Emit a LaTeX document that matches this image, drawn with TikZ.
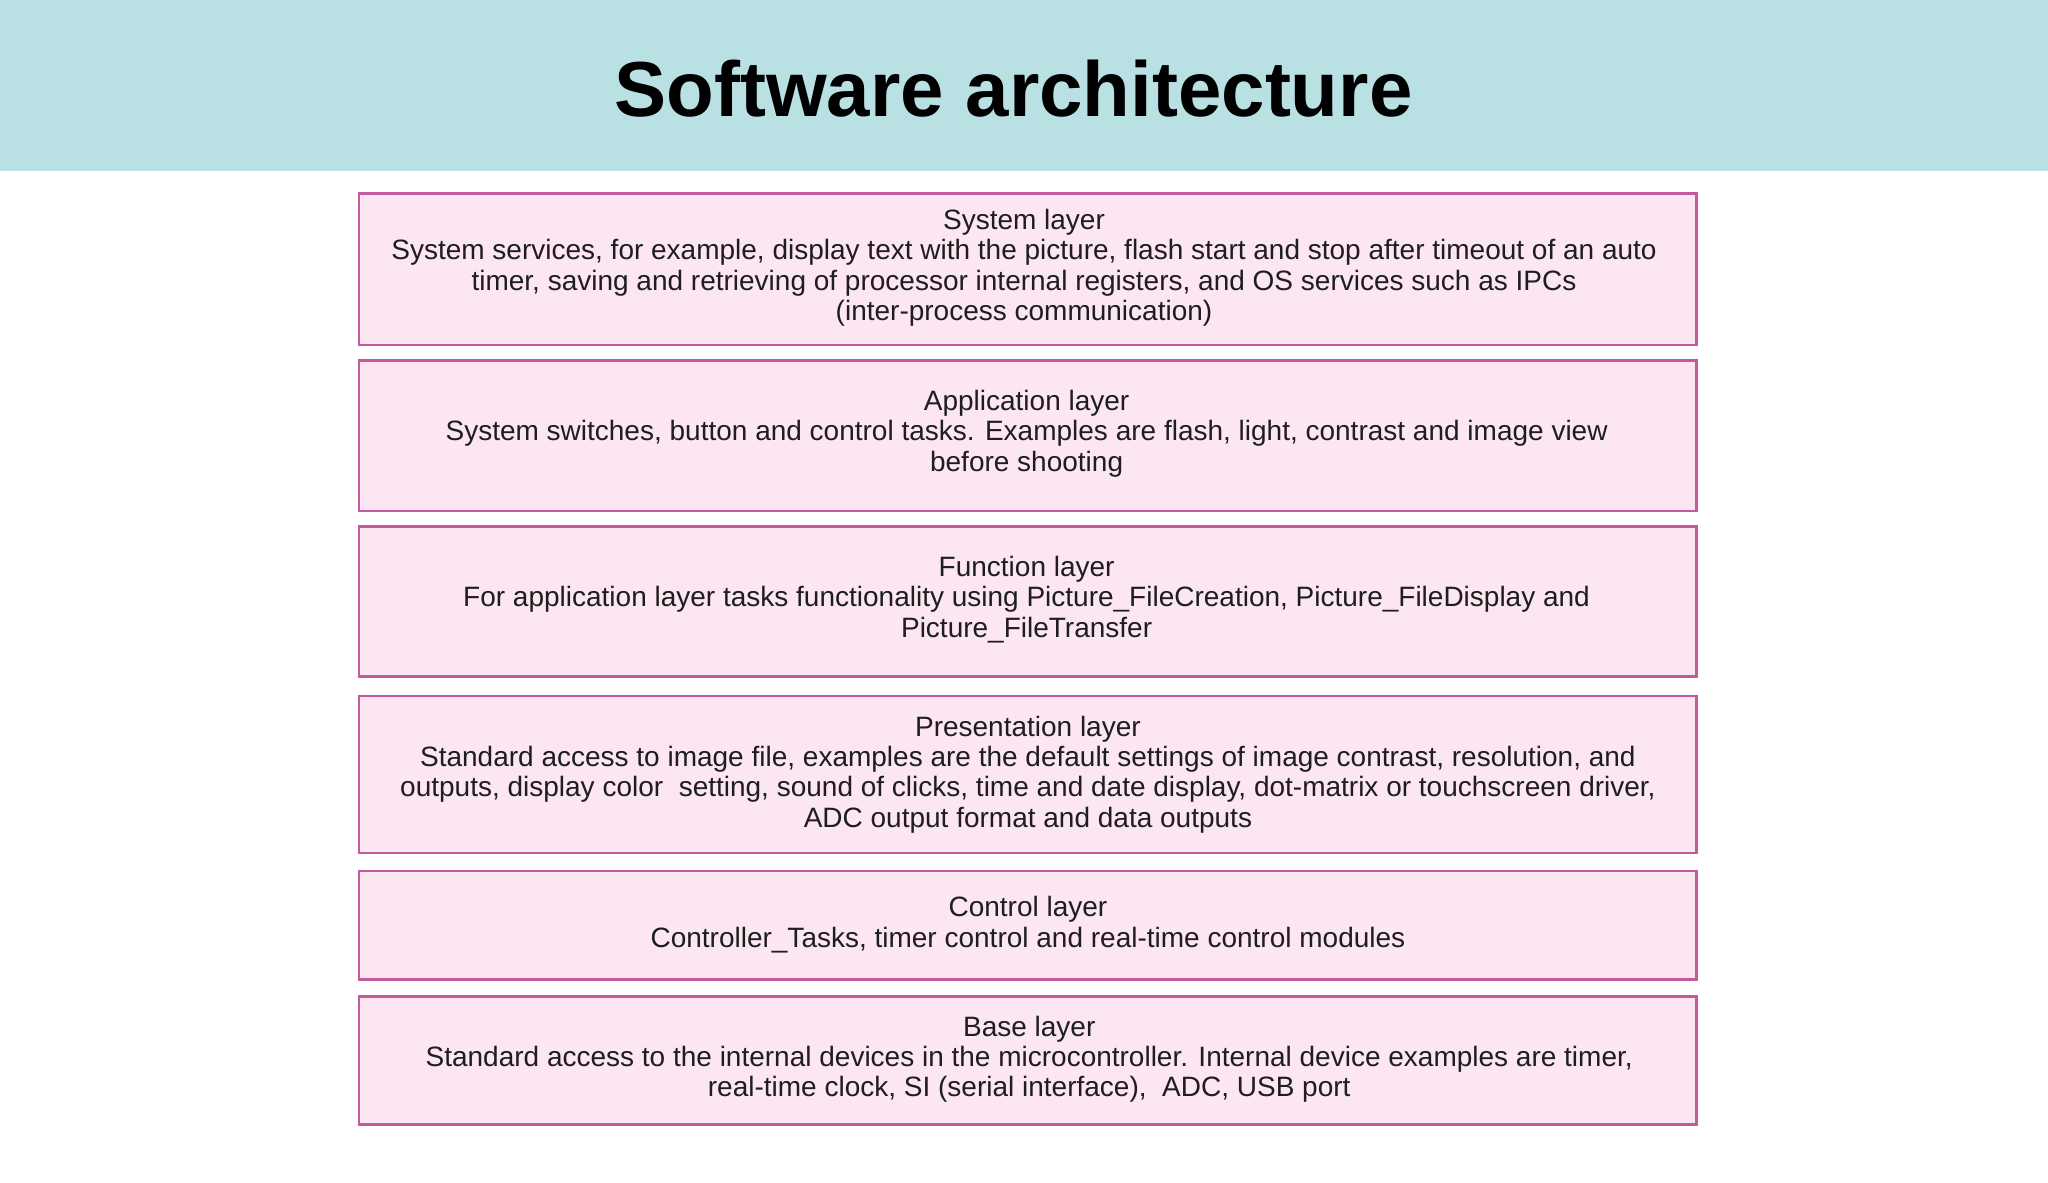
\documentclass[tikz,border=0pt]{standalone}
\usepackage{fontspec}
\setmainfont{Liberation Sans}
\definecolor{hdr}{HTML}{B9E0E3}
\definecolor{boxfill}{HTML}{FCE6F1}
\definecolor{boxline}{HTML}{C45A9E}
\definecolor{txt}{HTML}{1E1E1E}
\begin{document}
\begin{tikzpicture}[x=0.05cm,y=-0.05cm,
  layer/.style={draw=boxline,line width=2.6pt,fill=boxfill},
  ltext/.style={align=center,text=txt,font=\fontsize{30.5}{33}\selectfont,inner sep=0pt}]
\useasboundingbox (0,0) rectangle (1568,905);
\fill[white] (0,0) rectangle (1568,905);
\fill[hdr] (0,0) rectangle (1568,131);
\node[font=\bfseries\fontsize{85}{90}\selectfont] (title) at (776,68) {Software architecture};
\draw[layer] (275,148) rectangle (1299,264);
\node[ltext] (sys) at (784,205) {System layer\\System services, for example, display text with the picture, flash start and stop after timeout of an auto\\timer, saving and retrieving of processor internal registers, and OS services such as IPCs\\(inter-process communication)};
\draw[layer] (275,276) rectangle (1299,391);
\node[ltext] (app) at (786,332) {Application layer\\System switches, button and control tasks. Examples are flash, light, contrast and image view\\before shooting};
\draw[layer] (275,403) rectangle (1299,518);
\node[ltext] (fun) at (786,459) {Function layer\\For application layer tasks functionality using Picture\_FileCreation, Picture\_FileDisplay and\\Picture\_FileTransfer};
\draw[layer] (275,533) rectangle (1299,653);
\node[ltext] (pre) at (787,593) {Presentation layer\\Standard access to image file, examples are the default settings of image contrast, resolution, and\\outputs, display color\ \ setting, sound of clicks, time and date display, dot-matrix or touchscreen driver,\\ADC output format and data outputs};
\draw[layer] (275,667) rectangle (1299,750);
\node[ltext] (con) at (787,708) {Control layer\\Controller\_Tasks, timer control and real-time control modules};
\draw[layer] (275,763) rectangle (1299,861);
\node[ltext] (bas) at (788,811) {Base layer\\Standard access to the internal devices in the microcontroller. Internal device examples are timer,\\real-time clock, SI (serial interface),\ \ ADC, USB port};
\end{tikzpicture}
\end{document}
